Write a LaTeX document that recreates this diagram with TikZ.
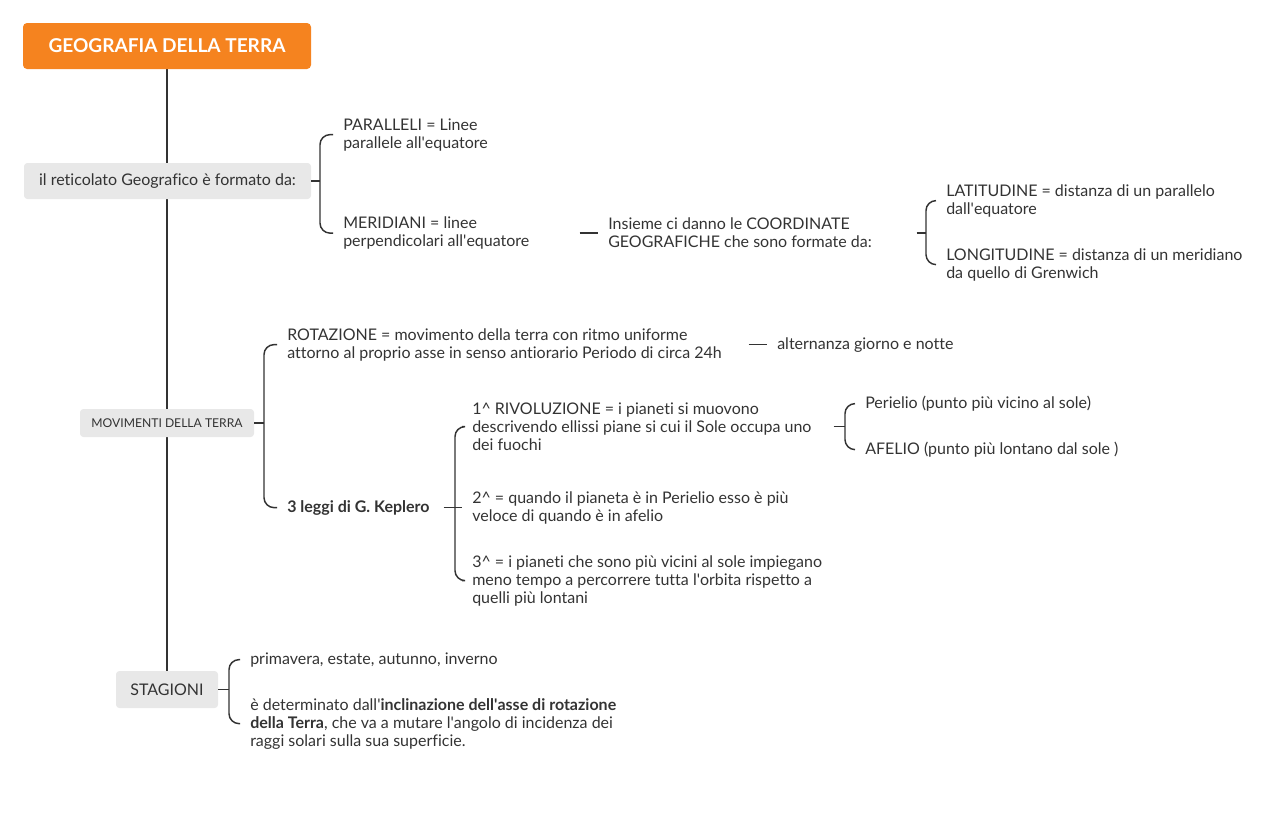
\documentclass[tikz,border=0pt]{standalone}
\usepackage{fontspec}
\setmainfont{Lato}[Ligatures={TeX,CommonOff}]
\usetikzlibrary{positioning, calc, backgrounds}
\definecolor{mapOrange}{HTML}{F5831F}
\definecolor{boxGray}{HTML}{E8E8E8}
\definecolor{ink}{HTML}{333333}
\newcommand{\ap}{\textquotesingle}
\newcommand{\hatup}{\textasciicircum}
% brace from a parent to its first and last child
\newcommand{\curly}[4]{%
  \draw[link] (#1.east) -- (#1.east -| #2);
  \draw[link, rounded corners=7.5pt] ($(#3.west)+(-10,0)$) -| (#2 |- #4.west) -- ($(#4.west)+(-10,0)$);}

\begin{document}
\begin{tikzpicture}[x=0.75pt, y=-0.75pt,
		link/.style={draw=ink, line width=1.1pt},
		topic/.style={fill=boxGray, rounded corners=2.5pt, text=ink, inner sep=0,
			font=\fontsize{12}{13.5}\selectfont},
		leaf/.style={anchor=west, inner sep=0, text=ink, align=flush left, yshift=-1.2pt,
			font=\fontsize{12}{13.5}\selectfont}]
	\useasboundingbox (0,0) rectangle (1280,818);
	
	\node[fill=mapOrange, rounded corners=3pt, text=white, minimum width=216pt, minimum height=34.5pt,
		font=\fontsize{14.3}{17}\selectfont\bfseries] (root) at (167,46) {GEOGRAFIA DELLA TERRA};
	
	% reticolato
	\node[topic, minimum width=215.25pt, minimum height=27pt] (ret) at (167.5,181) {il reticolato Geografico è formato da:};
	\node[leaf, text width=177pt] (par) at (343,133) {PARALLELI = Linee\\parallele all\ap equatore};
	\node[leaf, text width=177pt] (mer) at (343,231.5) {MERIDIANI = linee\\perpendicolari all\ap equatore};
	\node[leaf, text width=231pt] (ins) at (608,231.5) {Insieme ci danno le COORDINATE\\GEOGRAFICHE che sono formate da:};
	\node[leaf] (lat) at (946,199) {LATITUDINE = distanza di un parallelo\\dall\ap equatore};
	\node[leaf] (lon) at (946,263) {LONGITUDINE = distanza di un meridiano\\da quello di Grenwich};
	\coordinate (b1) at (320,0);
	\coordinate (b2) at (926,0);
	\curly{ret}{b1}{par}{mer}
	\draw[link] (mer.east) -- ($(ins.west)+(-10,0)$);
	\curly{ins}{b2}{lat}{lon}
	
	% movimenti
	\node[topic, minimum width=130.5pt, minimum height=21pt, font=\fontsize{9.1}{11}\selectfont] (mov) at (167,423) {MOVIMENTI DELLA TERRA};
	\node[leaf, text width=345.75pt] (rot) at (287,343) {ROTAZIONE = movimento della terra con ritmo uniforme\\attorno al proprio asse in senso antiorario Periodo di circa 24h};
	\node[leaf] (alt) at (777,343) {alternanza giorno e notte};
	\node[leaf, text width=117pt, font=\fontsize{12}{13.5}\selectfont\bfseries] (kep) at (287,506) {3 leggi di G. Keplero};
	\node[leaf, text width=270.75pt] (riv) at (472,425) {1\hatup{} RIVOLUZIONE = i pianeti si muovono\\descrivendo ellissi piane si cui il Sole occupa uno\\dei fuochi};
	\node[leaf] (sec) at (472,506) {2\hatup{} = quando il pianeta è in Perielio esso è più\\veloce di quando è in afelio};
	\node[leaf] (ter) at (472,579) {3\hatup{} = i pianeti che sono più vicini al sole impiegano\\meno tempo a percorrere tutta l\ap orbita rispetto a\\quelli più lontani};
	\node[leaf] (per) at (865,402) {Perielio (punto più vicino al sole)};
	\node[leaf] (afe) at (865,448) {AFELIO (punto più lontano dal sole )};
	\coordinate (b3) at (264,0);
	\coordinate (b4) at (455,0);
	\coordinate (b5) at (845,0);
	\curly{mov}{b3}{rot}{kep}
	\draw[link] (rot.east) -- ($(alt.west)+(-10,0)$);
	\curly{kep}{b4}{riv}{ter}
	\draw[link] (b4 |- sec.west) -- ($(sec.west)+(-10,0)$);
	\curly{riv}{b5}{per}{afe}
	
	% stagioni
	\node[topic, minimum width=76.5pt, minimum height=27.75pt] (stag) at (167,689.5) {STAGIONI};
	\node[leaf] (pri) at (250,658) {primavera, estate, autunno, inverno};
	\node[leaf] (det) at (250,722) {è determinato dall\ap\textbf{inclinazione dell\ap asse di rotazione}\\\textbf{della Terra}, che va a mutare l\ap angolo di incidenza dei\\raggi solari sulla sua superficie.};
	\coordinate (b6) at (229,0);
	\curly{stag}{b6}{pri}{det}
	
	\begin{scope}[on background layer]
		\draw[link] (root.south) -- (stag.north);
	\end{scope}
\end{tikzpicture}
\end{document}
